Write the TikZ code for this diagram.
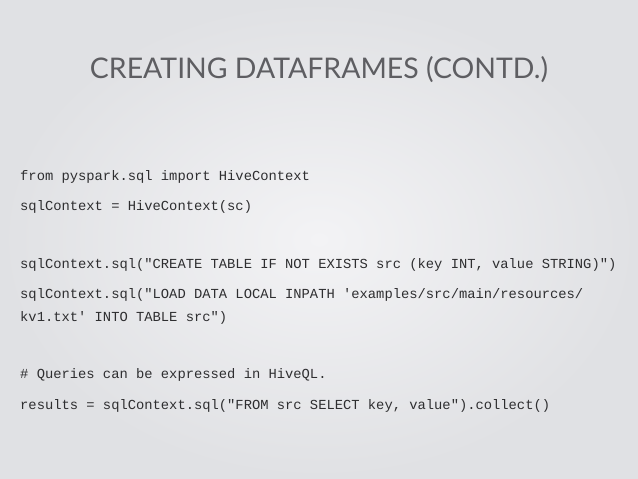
\documentclass[tikz,border=0pt]{standalone}
\usepackage{fontspec}
\newfontfamily\codefont{Liberation Mono}
\newfontfamily\titlefont{Lato}
\definecolor{bgc}{HTML}{F3F3F5}
\definecolor{bge}{HTML}{E0E1E4}
\definecolor{titlec}{HTML}{5E5E62}
\definecolor{codec}{HTML}{2E2E30}
\tikzset{code/.style={anchor=base west,inner sep=0pt,text=codec,font=\codefont\fontsize{13.8}{16}\selectfont}}
\begin{document}
\begin{tikzpicture}[x=1pt,y=-1pt]
\useasboundingbox (0,0) rectangle (638,479);
\shade[inner color=bgc,outer color=bge] (0,0) rectangle (638,479);
\node[inner sep=0pt,text=titlec] (title) at (319,70) {\resizebox{458pt}{!}{\titlefont\fontsize{30}{36}\selectfont CREATING DATAFRAMES (CONTD.)}};
\node[code] (l1) at (20,180) {from pyspark.sql import HiveContext};
\node[code] (l2) at (20,210) {sqlContext = HiveContext(sc)};
\node[code] (l3) at (20,268) {sqlContext.sql("CREATE TABLE IF NOT EXISTS src (key INT, value STRING)")};
\node[code] (l4) at (20,298) {sqlContext.sql("LOAD DATA LOCAL INPATH 'examples/src/main/resources/};
\node[code] (l5) at (20,321) {kv1.txt' INTO TABLE src")};
\node[code] (l6) at (20,378) {\# Queries can be expressed in HiveQL.};
\node[code] (l7) at (20,409) {results = sqlContext.sql("FROM src SELECT key, value").collect()};
\end{tikzpicture}
\end{document}
